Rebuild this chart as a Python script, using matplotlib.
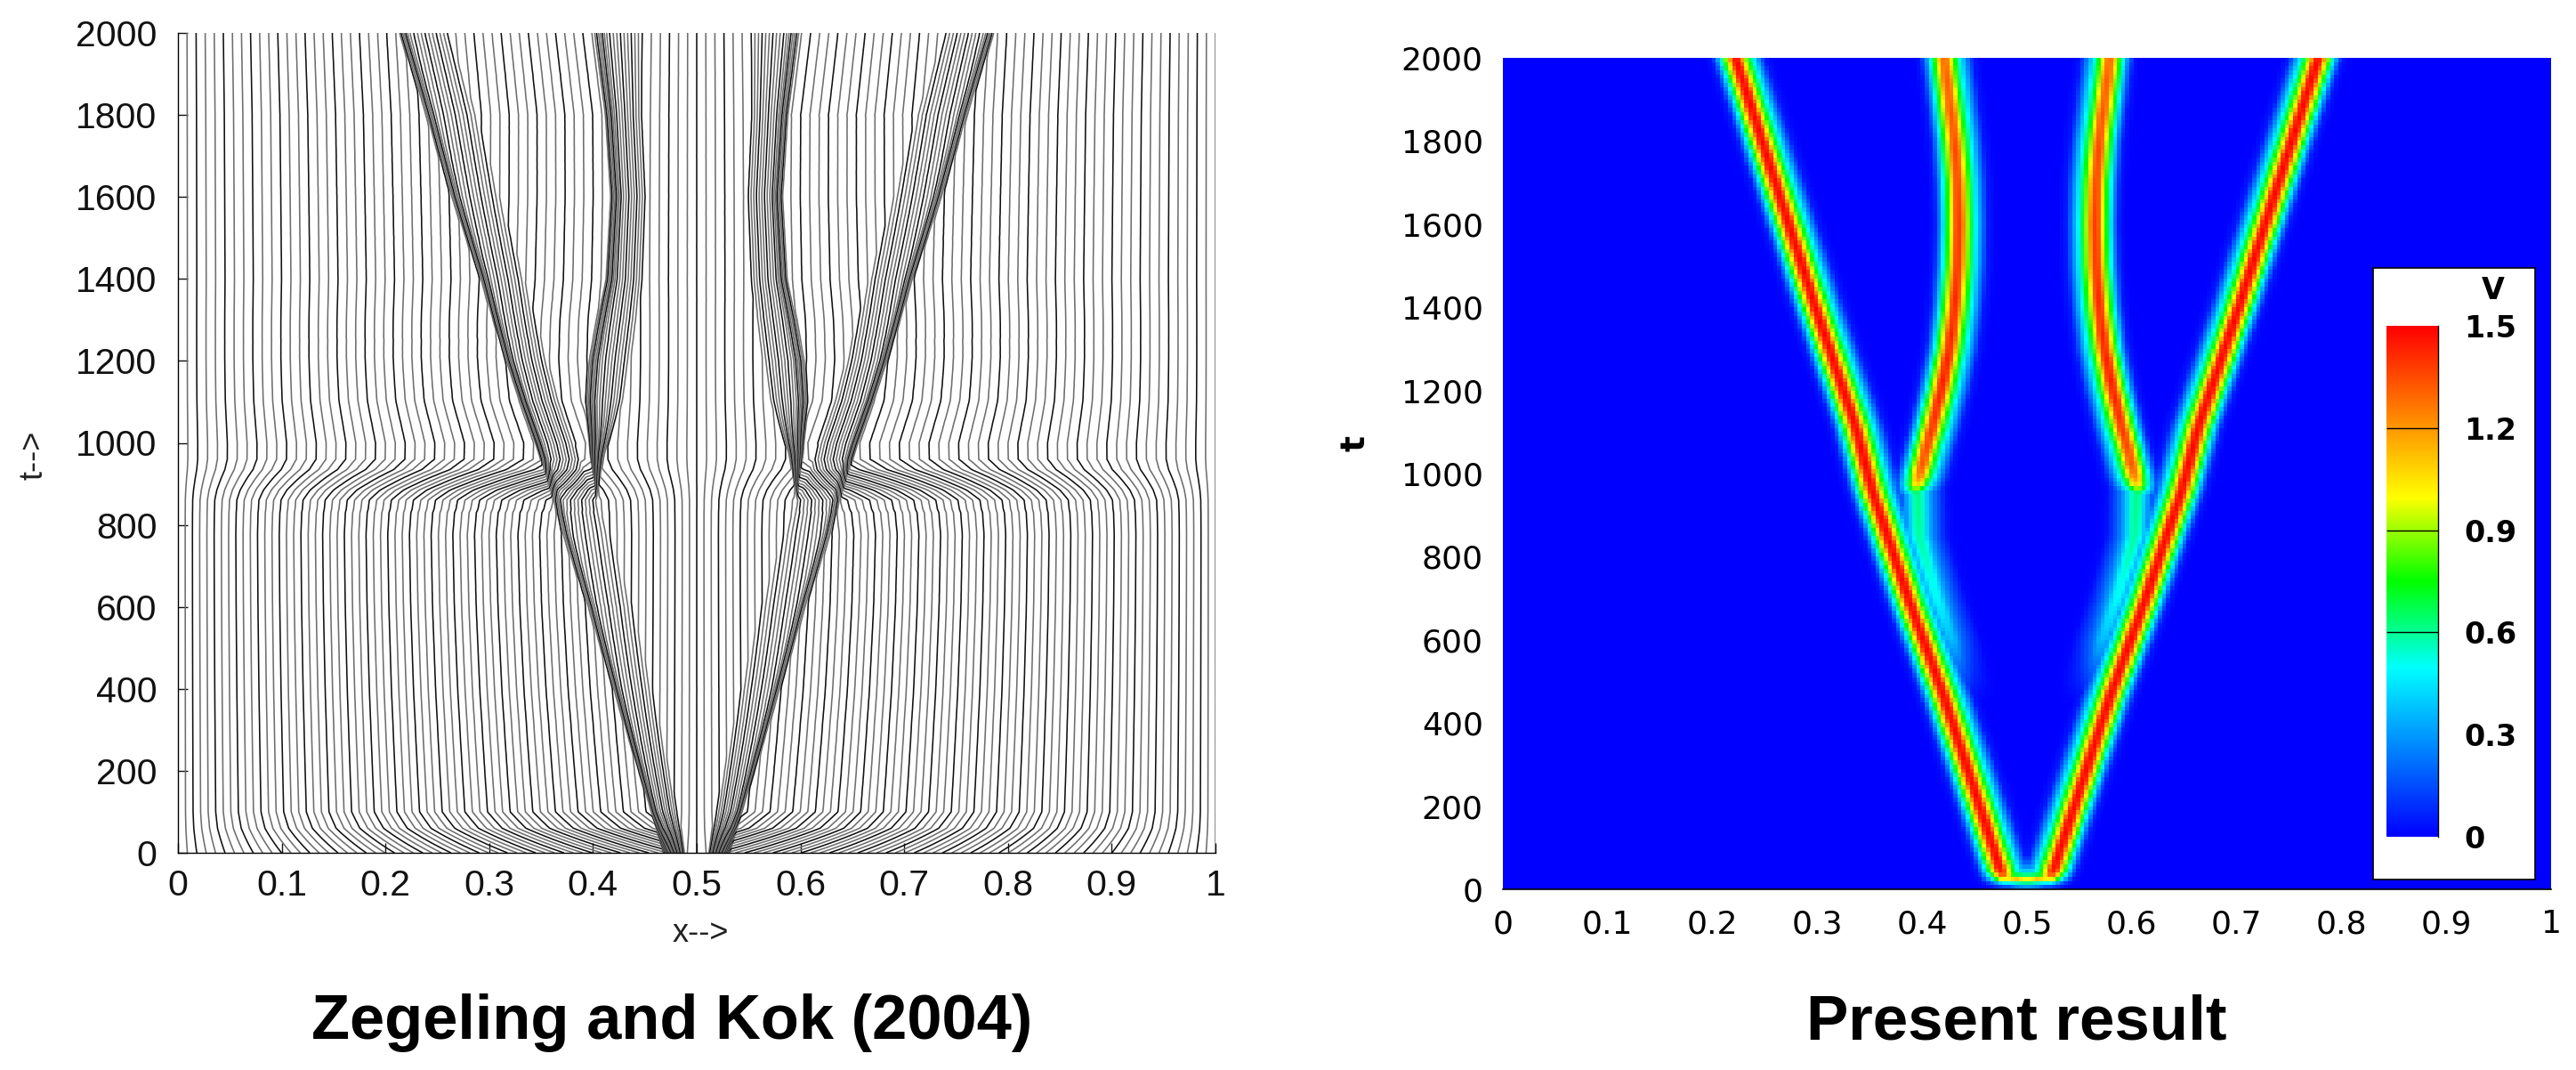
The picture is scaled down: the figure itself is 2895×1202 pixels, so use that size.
import numpy as np
import matplotlib
matplotlib.use("Agg")
import matplotlib.pyplot as plt
from matplotlib.colors import LinearSegmentedColormap
from matplotlib.collections import LineCollection

W, H = 2895, 1202
# ---------- values ----------
x_ticks = [0, .1, .2, .3, .4, .5, .6, .7, .8, .9, 1]
x_labels = ["0", "0.1", "0.2", "0.3", "0.4", "0.5", "0.6", "0.7", "0.8", "0.9", "1"]
t_ticks = list(range(0, 2001, 200))
cbar_ticks = [0, .3, .6, .9, 1.2, 1.5]
cbar_labels = ["0", "0.3", "0.6", "0.9", "1.2", "1.5"]

# left panel: mesh-band edges (left half; the right half mirrors them)
main_t = [0, 50, 200, 400, 600, 777, 925, 1200, 1400, 1600, 1800, 2000]
main_outer = [.468, .462, .4436, .419, .3945, .370, .354, .3155, .291, .263, .2385, .2127]
main_inner = [.489, .486, .474, .457, .438, .416, .392, .356, .334, .310, .288, .260]
side_t = [900, 930, 973, 1103, 1200, 1300, 1400, 1600, 1800, 2000]
side_outer = [.402, .400, .397, .392, .395, .403, .412, .417, .411, .400]
side_inner = [.406, .408, .412, .429, .436, .443, .448, .452, .447, .447]
main_share_t = [0, 20, 60, 100, 860, 885, 910, 935, 960, 2000]
main_share = [.17, .15, .11, .093, .093, .095, .098, .102, .105, .105]
side_share_t = [830, 860, 885, 910, 935, 960, 1000, 2000]
side_share = [0, .006, .025, .055, .085, .10, .105, .105]
band_frac = [0, .12, .25, 1]
band_dens = [2.0, 2.0, .8, .8]
side_frac = [0, .2, .35, 1]
side_dens = [1.6, 1.6, .85, .85]
n_mesh = 161
line_cycle = ["#6e6e6e", "#6e6e6e", "#111111"]

# right panel: pulse centre lines
ridge_t = [0, 47, 200, 469, 683, 961, 1111, 1400, 1700, 2000]
ridge_x = [.482, .4745, .4548, .42, .389, .352, .3367, .298, .260, .222]
ridge_amp_t = [0, 15, 30, 50, 2000]
ridge_amp = [0, .5, 1.3, 1.5, 1.5]
branch_t = [957, 1000, 1060, 1111, 1200, 1300, 1400, 1500, 1600, 1700, 1800, 1900, 2000]
branch_x = [.394, .398, .404, .4095, .418, .426, .431, .434, .435, .434, .431, .426, .421]
branch_amp_t = [940, 957, 975, 1000, 1100, 1200, 1600, 2000]
branch_amp = [0, .75, 1.1, 1.3, 1.4, 1.45, 1.4, 1.3]
ghost_t = [450, 600, 700, 850, 957, 975]
ghost_x = [.445, .428, .414, .397, .396, .396]
ghost_amp = [.0, .38, .5, .6, .62, 0]
prof_d = [-.030, -.023, -.0185, -.0145, -.0115, -.0078, -.0038, 0, .0038, .0078, .0118, .0165, .0225, .028, .036]
prof_v = [0, .033, .167, .333, .5, .667, .93, 1, .93, .667, .5, .333, .167, .033, 0]
arc_x = [.468, .475, .48, .49, .5, .51, .52, .525, .532]
arc_t = [45, 38, 30, 25, 23, 25, 30, 38, 45]
arc_amp = [.0, 1.3, 1.3, 1.1, 1.05, 1.1, 1.3, 1.3, .0]
arc_dt = [-23, -10, 0, 7, 17, 37, 67]
arc_ratio = [.15, .5, 1, .7, .43, .2, 0]
cmap_pos = [0, .33, .5, .664, 1]
cmap_col = ["#0000ff", "#00ffff", "#00ff00", "#ffff00", "#ff0000"]

plt.rcParams["font.family"] = ["Liberation Sans", "DejaVu Sans"]
fig = plt.figure(figsize=(W / 100, H / 100), dpi=100, facecolor="white")


def px_axes(x0, y0, x1, y1, **kw):
    return fig.add_axes([x0 / W, 1 - y1 / H, (x1 - x0) / W, (y1 - y0) / H], **kw)


def ftext(x, y, s, **kw):
    fig.text(x / W, 1 - y / H, s, **kw)


# ---------- left panel ----------
ax = px_axes(200, 37, 1366, 958)
tg = np.concatenate([np.arange(0, 100, 1), np.arange(100, 820, 10), np.arange(820, 1020, 2), np.arange(1020, 2001, 10)]).astype(float)
xf = np.linspace(0, 1, 6001)
lines = np.zeros((n_mesh, tg.size))


def band(lo, hi, outer_is_low, fr=band_frac, de=band_dens):
    f = (xf - lo) / max(hi - lo, 1e-6)
    inside = (f >= 0) & (f <= 1)
    ff = f if outer_is_low else 1 - f
    d = np.interp(ff, fr, de) * inside
    s = d.sum()
    return d / s if s > 0 else d


for j, t in enumerate(tg):
    wm = np.interp(t, main_share_t, main_share)
    ws = np.interp(t, side_share_t, side_share)
    mo, mi = np.interp(t, main_t, main_outer), np.interp(t, main_t, main_inner)
    so, si = np.interp(t, side_t, side_outer), np.interp(t, side_t, side_inner)
    dens = np.zeros_like(xf)
    dens += wm * band(mo, mi, True) + wm * band(1 - mi, 1 - mo, False)
    if ws > 0:
        dens += ws * band(so, si, True, side_frac, side_dens) + ws * band(1 - si, 1 - so, False, side_frac, side_dens)
    mask = np.ones_like(xf)
    mask[(xf > mo) & (xf < mi)] = 0
    mask[(xf > 1 - mi) & (xf < 1 - mo)] = 0
    if ws > 0:
        mask[(xf > so) & (xf < si)] = 0
        mask[(xf > 1 - si) & (xf < 1 - so)] = 0
    dens += (1 - 2 * wm - 2 * ws) * mask / mask.sum()
    cdf = np.cumsum(dens)
    cdf = (cdf - cdf[0]) / (cdf[-1] - cdf[0])
    lines[:, j] = np.interp(np.linspace(0, 1, n_mesh), cdf, xf)

cols = [line_cycle[i % len(line_cycle)] for i in range(n_mesh)]
ax.add_collection(LineCollection([np.column_stack([l, tg]) for l in lines], colors=cols, linewidths=1.15))
ax.set_xlim(0, 1)
ax.set_ylim(0, 2000)
ax.spines["top"].set_visible(False)
ax.spines["right"].set_visible(False)
for s in ax.spines.values():
    s.set_linewidth(1.0)
ax.set_xticks(x_ticks, x_labels)
ax.set_yticks(t_ticks)
ax.tick_params(direction="in", length=8, width=1.0, labelsize=29.5, colors="#111111")
ax.tick_params(axis="y", pad=17)
ax.tick_params(axis="x", pad=13)
ftext(787, 1049, "x-->", fontsize=26, ha="center", va="center", color="#222222")
ftext(38, 511, "t-->", fontsize=26, ha="center", va="center", rotation=90, color="#222222")
ftext(755, 1149, "Zegeling and Kok (2004)", fontsize=50.8, fontweight="bold", ha="center", va="center")

# ---------- right panel ----------
axr = px_axes(1689, 65, 2867, 999)
xc = (np.arange(256) + .5) / 256
tc = (np.arange(200) + .5) / 200 * 2000
X, T = np.meshgrid(xc, tc)


def pulse(track_x, amp, flip=False):
    d = X - track_x
    if flip:
        d = -d
    return amp * np.interp(d, prof_d, prof_v, left=0, right=0)


rx = np.interp(T, ridge_t, ridge_x)
ra = np.interp(T, ridge_amp_t, ridge_amp)
bx = np.interp(T, branch_t, branch_x)
ba = np.interp(T, branch_amp_t, branch_amp)
gx = np.interp(T, ghost_t, ghost_x)
ga = np.interp(T, ghost_t, ghost_amp)
field = np.maximum.reduce([
    pulse(rx, ra), pulse(1 - rx, ra, True),
    pulse(bx, ba), pulse(1 - bx, ba, True),
    pulse(gx, ga), pulse(1 - gx, ga, True),
    np.interp(X, arc_x, arc_amp) * np.interp(T - np.interp(X, arc_x, arc_t), arc_dt, arc_ratio, left=.0, right=0),
])
cm = LinearSegmentedColormap.from_list("tec", list(zip(cmap_pos, cmap_col)), N=512)
axr.imshow(field, cmap=cm, vmin=0, vmax=1.5, origin="lower", extent=[0, 1, 0, 2000], aspect="auto", interpolation="nearest")
for k, s in axr.spines.items():
    s.set_visible(k == "bottom")
    s.set_linewidth(1.2)
axr.set_xticks(x_ticks, x_labels)
axr.set_yticks(t_ticks)
axr.tick_params(length=0, labelsize=26, pad=16)
for lab in axr.get_xticklabels() + axr.get_yticklabels():
    lab.set_family("DejaVu Sans")
ftext(1523, 498, "t", fontsize=27, fontweight="bold", family="DejaVu Sans", ha="center", va="center", rotation=90)
ftext(2266, 1149, "Present result", fontsize=51, fontweight="bold", ha="center", va="center")

# legend box drawn over the field
box = px_axes(2667, 301, 2849, 988, zorder=5)
box.set_xticks([]); box.set_yticks([])
box.set_facecolor("white")
for s in box.spines.values():
    s.set_linewidth(1.2)
cax = px_axes(2682, 366, 2740, 940, zorder=6)
grad = np.linspace(0, 1.5, 512).reshape(-1, 1)
cax.imshow(grad, cmap=cm, vmin=0, vmax=1.5, origin="lower", extent=[0, 1, 0, 1.5], aspect="auto")
cax.hlines([.6, .9, 1.2], 0, 1, color="black", lw=1.0)
cax.set_xticks([])
cax.yaxis.tick_right()
cax.set_yticks(cbar_ticks, cbar_labels)
cax.tick_params(length=0, labelsize=24, pad=21)
for lab in cax.get_yticklabels():
    lab.set_family("DejaVu Sans")
    lab.set_fontweight("bold")
for k, s in cax.spines.items():
    s.set_visible(k == "right")
    s.set_linewidth(1.0)
fig.text(2802 / W, 1 - 326 / H, "V", fontsize=24, fontweight="bold", family="DejaVu Sans", ha="center", va="center", zorder=7)

fig.savefig("out.png", dpi=100, facecolor="white")
